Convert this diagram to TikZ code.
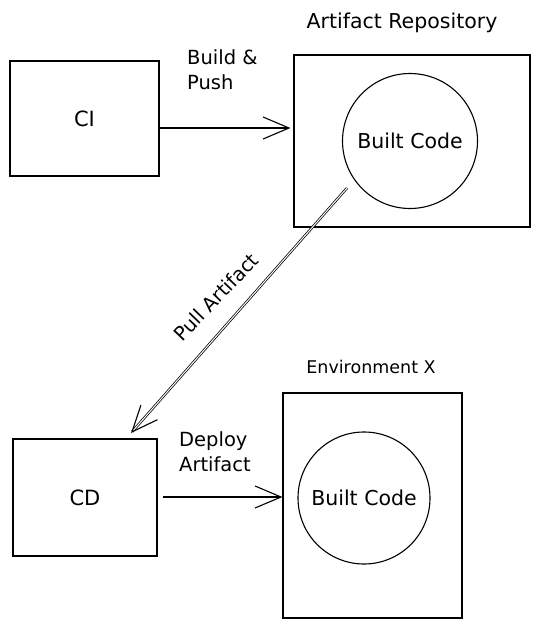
\documentclass[tikz,border=0pt]{standalone}
\usepackage{fontspec}
\setmainfont{DejaVu Sans}
\usetikzlibrary{arrows.meta}
\tikzset{
  box/.style={draw, line width=1.1pt, rectangle, inner sep=0pt},
  blob/.style={draw, line width=1.1pt, circle, inner sep=0pt, font=\fontsize{20.5}{24}\selectfont},
  title/.style={font=\fontsize{20.5}{24}\selectfont, inner sep=0pt},
  lbl/.style={font=\fontsize{19.5}{25}\selectfont, inner sep=0pt, align=left},
  arr/.style={line width=1.1pt, -{Straight Barb[length=26pt,width=22pt,line width=1.1pt]}},
  dblarr/.style={double, double distance=1pt, line width=0.75pt, -{Straight Barb[length=26pt,width=22pt,line width=1.1pt]}}
}
\begin{document}
\begin{tikzpicture}[x=1pt,y=-1pt]
\useasboundingbox (0,0) rectangle (540,629);
% nodes
\node[box, minimum width=149pt, minimum height=115pt, font=\fontsize{21}{24}\selectfont] (ci) at (84.5,118.5) {CI};
\node[box, minimum width=236pt, minimum height=172pt] (repo) at (412,141) {};
\node[blob, minimum size=135pt] (bc1) at (410,141) {Built Code};
\node[title] (repot) at (402,23) {Artifact Repository};
\node[box, minimum width=144pt, minimum height=117pt, font=\fontsize{21}{24}\selectfont] (cd) at (85,497.5) {CD};
\node[box, minimum width=179pt, minimum height=225pt] (env) at (372.5,505.5) {};
\node[blob, minimum size=132pt] (bc2) at (364,498) {Built Code};
\node[lbl, font=\fontsize{17.5}{21}\selectfont] (envt) at (371,367) {Environment X};
% labels
\node[lbl, anchor=north west] (bp) at (187,49) {Build \&\\Push};
\node[lbl, anchor=north west] (da) at (179,431) {Deploy\\Artifact};
\node[lbl, rotate=46] (pa) at (216,297) {Pull Artifact};
% connectors
\coordinate (pstart) at (347,188);
\coordinate (pend) at (131,433);
\draw[arr] ([yshift=-9.5pt]ci.east) -- ([xshift=-3pt,yshift=13pt]repo.west);
\draw[arr] ([xshift=5pt,yshift=0.5pt]cd.east) -- ([yshift=8.5pt]env.west);
\draw[dblarr] (pstart) -- (pend);
\end{tikzpicture}
\end{document}
